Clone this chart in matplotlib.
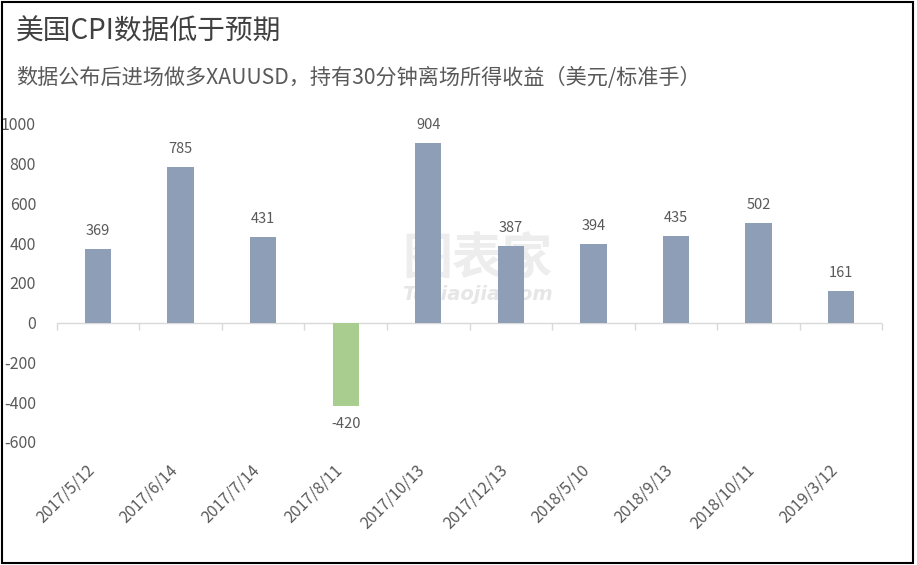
import matplotlib
matplotlib.use("Agg")
import matplotlib.pyplot as plt
import matplotlib.lines as mlines
from matplotlib.patches import Rectangle
import numpy as np

plt.rcParams['font.family'] = ['Noto Sans CJK SC', 'DejaVu Sans']

dates = ["2017/5/12", "2017/6/14", "2017/7/14", "2017/8/11", "2017/10/13",
         "2017/12/13", "2018/5/10", "2018/9/13", "2018/10/11", "2019/3/12"]
profits = [369, 785, 431, -420, 904, 387, 394, 435, 502, 161]
y_ticks = [-600, -400, -200, 0, 200, 400, 600, 800, 1000]

title = "美国CPI数据低于预期"
subtitle = "数据公布后进场做多XAUUSD，持有30分钟离场所得收益（美元/标准手）"

POS_COLOR = "#8E9EB6"
NEG_COLOR = "#A9CD8F"
TEXT_COLOR = "#595959"

fig = plt.figure(figsize=(9.17, 5.65), dpi=100)
ax = fig.add_axes([0.062, 0.2177, 0.900, 0.563])

x = np.arange(len(dates))
colors = [POS_COLOR if v >= 0 else NEG_COLOR for v in profits]
ax.bar(x, profits, width=0.32, color=colors, zorder=2)

for xi, v in zip(x, profits):
    ax.annotate(str(v), (xi, v), xytext=(0, 8 if v >= 0 else -8),
                textcoords="offset points", ha="center",
                va="bottom" if v >= 0 else "top",
                fontsize=10.5, color=TEXT_COLOR, zorder=3)

# zero line with category boundary ticks
ax.axhline(0, color="#D9D9D9", lw=1, zorder=1)
bounds = np.arange(len(dates) + 1) - 0.5
ax.plot(bounds, np.zeros_like(bounds), linestyle="none",
        marker=mlines.TICKDOWN, markersize=5, color="#D9D9D9",
        markeredgewidth=1, zorder=1, clip_on=False)

ax.set_xlim(-0.5, len(dates) - 0.5)
ax.set_ylim(-600, 1000)
ax.set_yticks(y_ticks)
ax.set_yticklabels([str(t) for t in y_ticks])
ax.set_xticks(x)
ax.set_xticklabels(dates, rotation=45, ha="right", va="top")
ax.tick_params(axis="y", length=0, pad=15, labelsize=11.5, labelcolor=TEXT_COLOR)
ax.tick_params(axis="x", length=0, pad=14, labelsize=11.5, labelcolor=TEXT_COLOR)
for s in ax.spines.values():
    s.set_visible(False)

# faint watermark
ax.text(4.6, 315, "图表家", ha="center", va="center", fontsize=36,
        color="#EDEDED", fontweight="bold", zorder=0)
ax.text(4.6, 140, "Tubiaojia.com", ha="center", va="center", fontsize=14,
        color="#E6E6E6", fontweight="bold", style="italic", zorder=0,
        family="DejaVu Sans")

fig.text(16 / 917, 1 - 32 / 565, title, fontsize=20, color="#404040",
         ha="left", va="center", fontweight="medium")
fig.text(16 / 917, 1 - 78 / 565, subtitle, fontsize=15.2, color=TEXT_COLOR,
         ha="left", va="center")

fig.patches.append(Rectangle((0.002, 0.003), 0.994, 0.993, transform=fig.transFigure,
                             fill=False, edgecolor="black", lw=1.5))

fig.savefig("out.png", dpi=100)
